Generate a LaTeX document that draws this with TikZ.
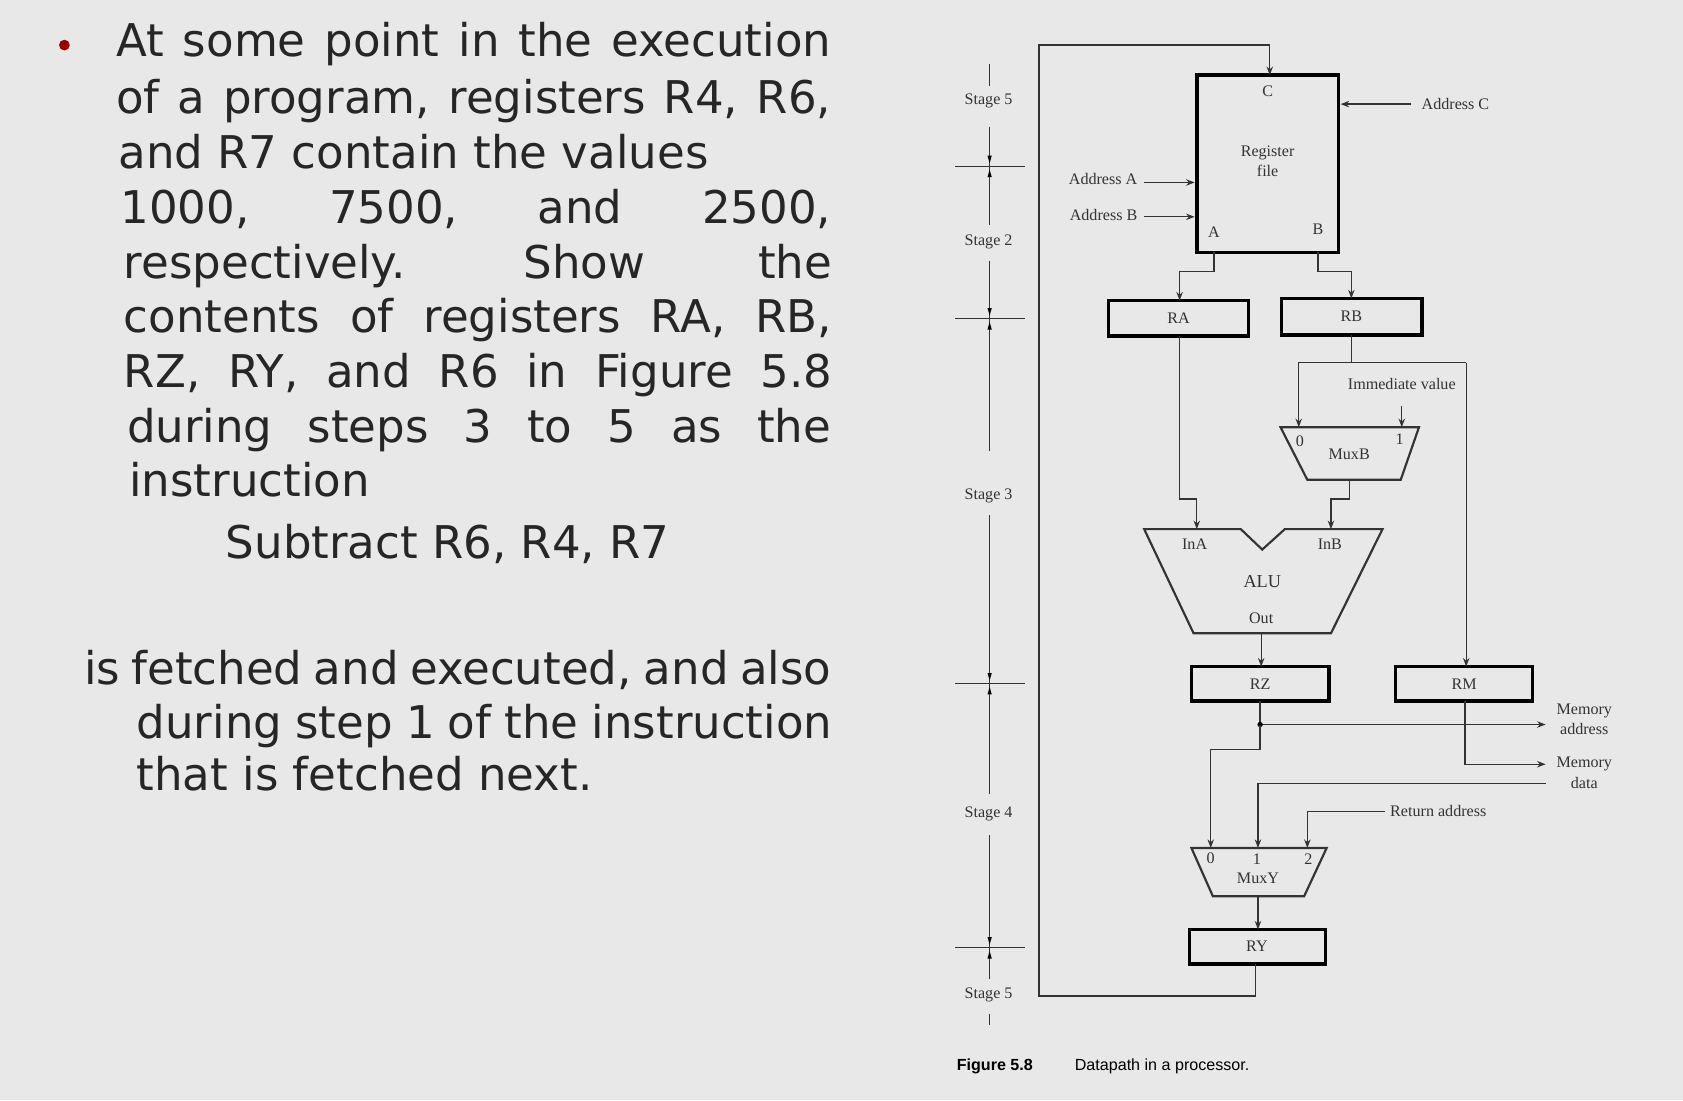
\documentclass[tikz,border=0pt]{standalone}
\usepackage{fontspec}
\setmainfont{DejaVu Sans}
\newfontfamily\ser{Liberation Serif}
\newfontfamily\capfont{Liberation Sans}
\usetikzlibrary{arrows.meta}
\begin{document}
\begin{tikzpicture}[x=0.5pt,y=-0.5pt,
  ln/.style={anchor=base west,inner sep=0pt,font=\fontsize{21}{24}\selectfont,text=black!85},
  lb/.style={font=\ser\fontsize{7.5}{9.5}\selectfont,inner sep=1pt,text=black!80},
  reg/.style={draw,line width=1.6pt},
  w/.style={line width=0.6pt,draw=black!80},
  ar/.style={w,-{Stealth[length=4pt,width=3pt]}}]
\fill[black!9] (0,0) rectangle (1568,1025);
\useasboundingbox (0,0) rectangle (1568,1025);
% text
\fill[red!60!black] (60,42) circle (5);
\newcommand{\J}[1]{\makebox[333pt][s]{#1}}
\node[ln] (l1) at (108,53) {\J{At some point in the execution}};
\node[ln] (l2) at (108,106) {\J{of a program, registers R4, R6,}};
\node[ln] (l3) at (110,157) {and R7 contain the values};
\node[ln] (l4) at (112,208) {\makebox[331pt][s]{1000, \hfill 7500, \hfill and \hfill 2500,}};
\node[ln] (l5) at (115,259) {\makebox[330pt][s]{respectively. \hfill Show \hfill the}};
\node[ln] (l6) at (115,310) {\makebox[330pt][s]{contents of registers RA, RB,}};
\node[ln] (l7) at (115,361) {\makebox[330pt][s]{RZ, RY, and R6 in Figure 5.8}};
\node[ln] (l8) at (118,412) {\makebox[328pt][s]{during steps 3 to 5 as the}};
\node[ln] (l9) at (120,463) {instruction};
\node[ln] (l10) at (210,520) {Subtract R6, R4, R7};
\node[ln] (l11) at (78,638) {\makebox[348pt][s]{is fetched and executed, and also}};
\node[ln] (l12) at (127,688) {\makebox[324pt][s]{during step 1 of the instruction}};
\node[ln] (l13) at (127,736) {that is fetched next.};
% stages
\foreach \a/\b in {60/80,118/210,243/420,480/740,778/912,945/955} \draw[w] (922,\a)--(922,\b);
\foreach \t in {155,297,637,883} {\draw[w] (890,\t)--(955,\t);
  \fill (922,\t-3)--(920,\t-10)--(924,\t-10)--cycle; \fill (922,\t+3)--(920,\t+10)--(924,\t+10)--cycle;}
\node[lb] (s5a) at (921,94) {Stage 5};
\node[lb] (s2) at (921,225) {Stage 2};
\node[lb] (s3) at (921,462) {Stage 3};
\node[lb] (s4) at (921,758) {Stage 4};
\node[lb] (s5b) at (921,927) {Stage 5};
% register file
\draw[reg] (1115,70) rectangle (1247,235);
\node[lb] (c) at (1181,85) {C};
\node[lb,align=center] (rf) at (1181,150) {Register\\file};
\node[lb] (pa) at (1131,216) {A};
\node[lb] (pb) at (1228,214) {B};
\node[lb] (adc) at (1356,97) {Address C};
\draw[ar] (1315,97)--(1249,97);
\node[lb,anchor=east] (ada) at (1062,167) {Address A};
\node[lb,anchor=east] (adb) at (1062,200) {Address B};
\draw[ar] (1066,170)--(1113,170);
\draw[ar] (1066,202)--(1113,202);
% registers
\draw[reg] (1033,280) rectangle (1163,313); \node[lb] (ra) at (1098,296) {RA};
\draw[reg] (1194,278) rectangle (1325,312); \node[lb] (rb) at (1259,295) {RB};
\draw[reg] (1110,621) rectangle (1238,653); \node[lb] (rz) at (1174,637) {RZ};
\draw[reg] (1300,621) rectangle (1428,653); \node[lb] (rm) at (1364,637) {RM};
\draw[reg] (1108,866) rectangle (1235,898); \node[lb] (ry) at (1171,882) {RY};
\draw[ar] (1131,235)--(1131,253)--(1099,253)--(1099,280);
\draw[ar] (1228,235)--(1228,253)--(1259,253)--(1259,278);
% MuxB
\draw[w,line width=1pt] (1193,398)--(1322,398)--(1305,447)--(1218,447)--cycle;
\node[lb] (mb0) at (1211,411) {0}; \node[lb] (mb1) at (1304,409) {1};
\node[lb] (mb) at (1257,423) {MuxB};
\draw[w] (1259,312)--(1259,338);
\draw[ar] (1366,338)--(1210,338)--(1210,398);
\draw[ar] (1366,338)--(1366,621);
\node[lb] (imm) at (1306,358) {Immediate value};
\draw[ar] (1306,378)--(1306,398);
% ALU
\draw[w,line width=1pt] (1066,493)--(1156,493)--(1176,512)--(1197,493)--(1288,493)--(1240,590)--(1112,590)--cycle;
\node[lb] (ina) at (1113,507) {InA}; \node[lb] (inb) at (1239,507) {InB};
\node[lb,font=\ser\fontsize{8.5}{9}\selectfont] (alu) at (1176,542) {ALU};
\node[lb] (out) at (1175,576) {Out};
\draw[ar] (1257,447)--(1257,465)--(1240,465)--(1240,493);
\draw[ar] (1099,313)--(1099,465)--(1115,465)--(1115,493);
\draw[ar] (1175,590)--(1175,621);
% memory
\draw[ar] (1174,653)--(1174,675)--(1440,675);
\fill (1174,675) circle (2.5);
\node[lb,align=center] (ma) at (1476,670) {Memory\\address};
\draw[ar] (1365,653)--(1365,712)--(1440,712);
\node[lb,align=center] (md) at (1476,720) {Memory\\data};
\draw[ar] (1174,675)--(1174,698)--(1128,698)--(1128,790);
\draw[ar] (1440,730)--(1172,730)--(1172,790);
\node[lb] (ret) at (1340,756) {Return address};
\draw[ar] (1290,756)--(1218,756)--(1218,790);
% MuxY
\draw[w,line width=1pt] (1110,790)--(1236,790)--(1215,835)--(1130,835)--cycle;
\node[lb] (my0) at (1128,800) {0}; \node[lb] (my1) at (1171,800) {1}; \node[lb] (my2) at (1219,800) {2};
\node[lb] (my) at (1172,818) {MuxY};
\draw[ar] (1172,835)--(1172,866);
% loop
\draw[ar] (1170,898)--(1170,928)--(968,928)--(968,42)--(1183,42)--(1183,70);
% caption
\node[anchor=base west,inner sep=0pt,font=\capfont\bfseries\fontsize{7.5}{8}\selectfont] (fig) at (891,997) {Figure 5.8};
\node[anchor=base west,inner sep=0pt,font=\capfont\fontsize{7.5}{8}\selectfont] (cap) at (1001,997) {Datapath in a processor.};
\end{tikzpicture}
\end{document}
